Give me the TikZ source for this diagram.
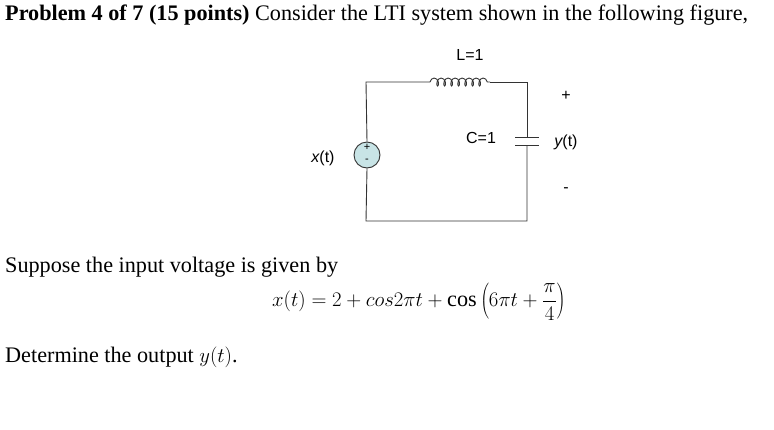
\documentclass[tikz,border=0pt]{standalone}
\usepackage{fontspec}
\setmainfont{Liberation Serif}
\newfontfamily\arial{Liberation Sans}
\usetikzlibrary{decorations.pathmorphing}
\definecolor{srcfill}{RGB}{200,228,230}
\begin{document}
\begin{tikzpicture}[x=1pt,y=-1pt,
  wire/.style={draw=black!80,line width=0.9pt},
  lbl/.style={font=\arial\fontsize{16}{18}\selectfont,inner sep=0},
  txt/.style={font=\fontsize{22.2}{26}\selectfont,anchor=west,inner sep=0}]
\useasboundingbox (0,0) rectangle (774,429);
\fill[white] (0,0) rectangle (774,429);
\node[txt] (title) at (5,15) {\textbf{Problem 4 of 7 (15 points)} Consider the LTI system shown in the following figure,};
\node[txt] (sup) at (5,267) {Suppose the input voltage is given by};
\node[txt] (eq) at (272,302) {$\displaystyle x(t)=2+cos2\pi t+\cos\left(6\pi t+\frac{\pi}{4}\right)$};
\node[txt] (det) at (5,357) {Determine the output $y(t)$.};
% circuit
\coordinate (tl) at (366,82); \coordinate (tr) at (527,82);
\coordinate (bl) at (366,221); \coordinate (br) at (527,221);
\coordinate (l1) at (430,82); \coordinate (l2) at (490,82);
\coordinate (c1) at (527,137); \coordinate (c2) at (527,145);
\node[circle,draw=black!80,fill=srcfill,minimum size=26pt,inner sep=0,line width=0.9pt] (src) at (367,155) {};
\node[font=\arial\fontsize{11}{11}\selectfont,inner sep=0] (sp) at (367,147) {+};
\node[font=\arial\fontsize{11}{11}\selectfont,inner sep=0] (sm) at (367,161) {-};
\draw[wire] (src.north) -- (366,82) -- (l1);
\draw[wire,decorate,decoration={coil,amplitude=4pt,segment length=7pt,aspect=0.6}] (l1) -- (l2);
\draw[wire] (l2) -- (tr) -- (c1);
\draw[wire] (c2) -- (br) -- (bl) -- (src.south);
\draw[wire] (515,137) -- (539,137);
\draw[wire] (515,145) -- (539,145);
\node[lbl] (L) at (470,55) {L=1};
\node[lbl] (C) at (481,138) {C=1};
\node[lbl] (x) at (323,158) {\itshape x\upshape(t)};
\node[lbl] (y) at (566,142) {\itshape y\upshape(t)};
\node[lbl] (yp) at (566,96) {+};
\node[lbl] (ym) at (566,190) {-};
\end{tikzpicture}
\end{document}
